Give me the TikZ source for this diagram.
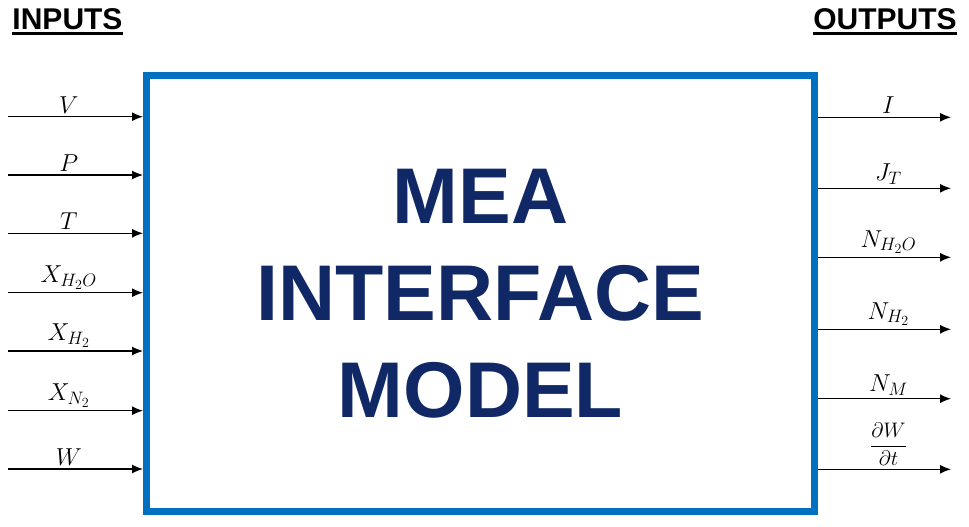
\RequirePackage{fix-cm}
\documentclass[tikz,border=0pt]{standalone}
\usepackage{amsmath}
\usepackage{fontspec}
\setsansfont{Liberation Sans}
\usetikzlibrary{arrows.meta}
\definecolor{boxblue}{RGB}{0,112,192}
\definecolor{navy}{RGB}{16,40,102}
\DeclareMathSizes{24.5}{24.5}{18}{14}
\DeclareMathSizes{21}{21}{16}{12}

\begin{document}
\begin{tikzpicture}[x=1pt,y=-1pt,
	flow/.style={line width=1.2pt,-{Latex[length=11pt,width=9pt]}},
	lbl/.style={above,inner sep=3pt,font=\fontsize{24.5}{29}\selectfont},
	title/.style={anchor=base,inner sep=0pt,font=\fontsize{30}{36}\selectfont\sffamily\bfseries},
	uline/.style={line width=3pt}]
			\useasboundingbox (0,0) rectangle (969,527);
			% titles
			\node [title] (inputs) at (67.5,30) {INPUTS};
			\node [title] (outputs) at (885,30) {OUTPUTS};
			\draw [uline] ([yshift=-3.5pt]inputs.base west) -- ([yshift=-3.5pt]inputs.base east);
			\draw [uline] ([yshift=-3.5pt]outputs.base west) -- ([yshift=-3.5pt]outputs.base east);
			% model box
			\node [draw=boxblue, line width=7pt, minimum width=668pt, minimum height=436pt,
				text=navy, align=center, font=\fontsize{79}{97}\selectfont\sffamily\bfseries]
				(model) at (480.5,293.5) {MEA\\INTERFACE\\MODEL};
			% inputs
			\coordinate (v) at (8,116.7);
			\coordinate (p) at (8,175);
			\coordinate (t) at (8,233.3);
			\coordinate (xh2o) at (8,292.7);
			\coordinate (xh2) at (8,351);
			\coordinate (xn2) at (8,410.7);
			\coordinate (w) at (8,469);
			\draw [flow] (v) -- node [lbl, pos=0.45] {$V$} (v -| model.west);
			\draw [flow] (p) -- node [lbl, pos=0.45] {$P$} (p -| model.west);
			\draw [flow] (t) -- node [lbl, pos=0.45] {$T$} (t -| model.west);
			\draw [flow] (xh2o) -- node [lbl, pos=0.45] {$X_{H_2O}$} (xh2o -| model.west);
			\draw [flow] (xh2) -- node [lbl, pos=0.45] {$X_{H_2}$} (xh2 -| model.west);
			\draw [flow] (xn2) -- node [lbl, pos=0.45] {$X_{N_2}$} (xn2 -| model.west);
			\draw [flow] (w) -- node [lbl, pos=0.45] {$W$} (w -| model.west);
			% outputs
			\coordinate (i) at (951,117.3);
			\coordinate (jt) at (951,188.3);
			\coordinate (nh2o) at (951,257.3);
			\coordinate (nh2) at (951,329.3);
			\coordinate (nm) at (951,398.7);
			\coordinate (dwdt) at (951,469.3);
			\draw [flow] (i -| model.east) -- node [lbl, pos=0.53] {$I$} (i);
			\draw [flow] (jt -| model.east) -- node [lbl, pos=0.53] {$J_T$} (jt);
			\draw [flow] (nh2o -| model.east) -- node [lbl, pos=0.53] {$N_{H_2O}$} (nh2o);
			\draw [flow] (nh2 -| model.east) -- node [lbl, pos=0.53] {$N_{H_2}$} (nh2);
			\draw [flow] (nm -| model.east) -- node [lbl, pos=0.53] {$N_M$} (nm);
			\draw [flow] (dwdt -| model.east) -- node [lbl, pos=0.53, font=\fontsize{21}{25}\selectfont] {$\dfrac{\partial W}{\partial t}$} (dwdt);
\end{tikzpicture}
\end{document}
